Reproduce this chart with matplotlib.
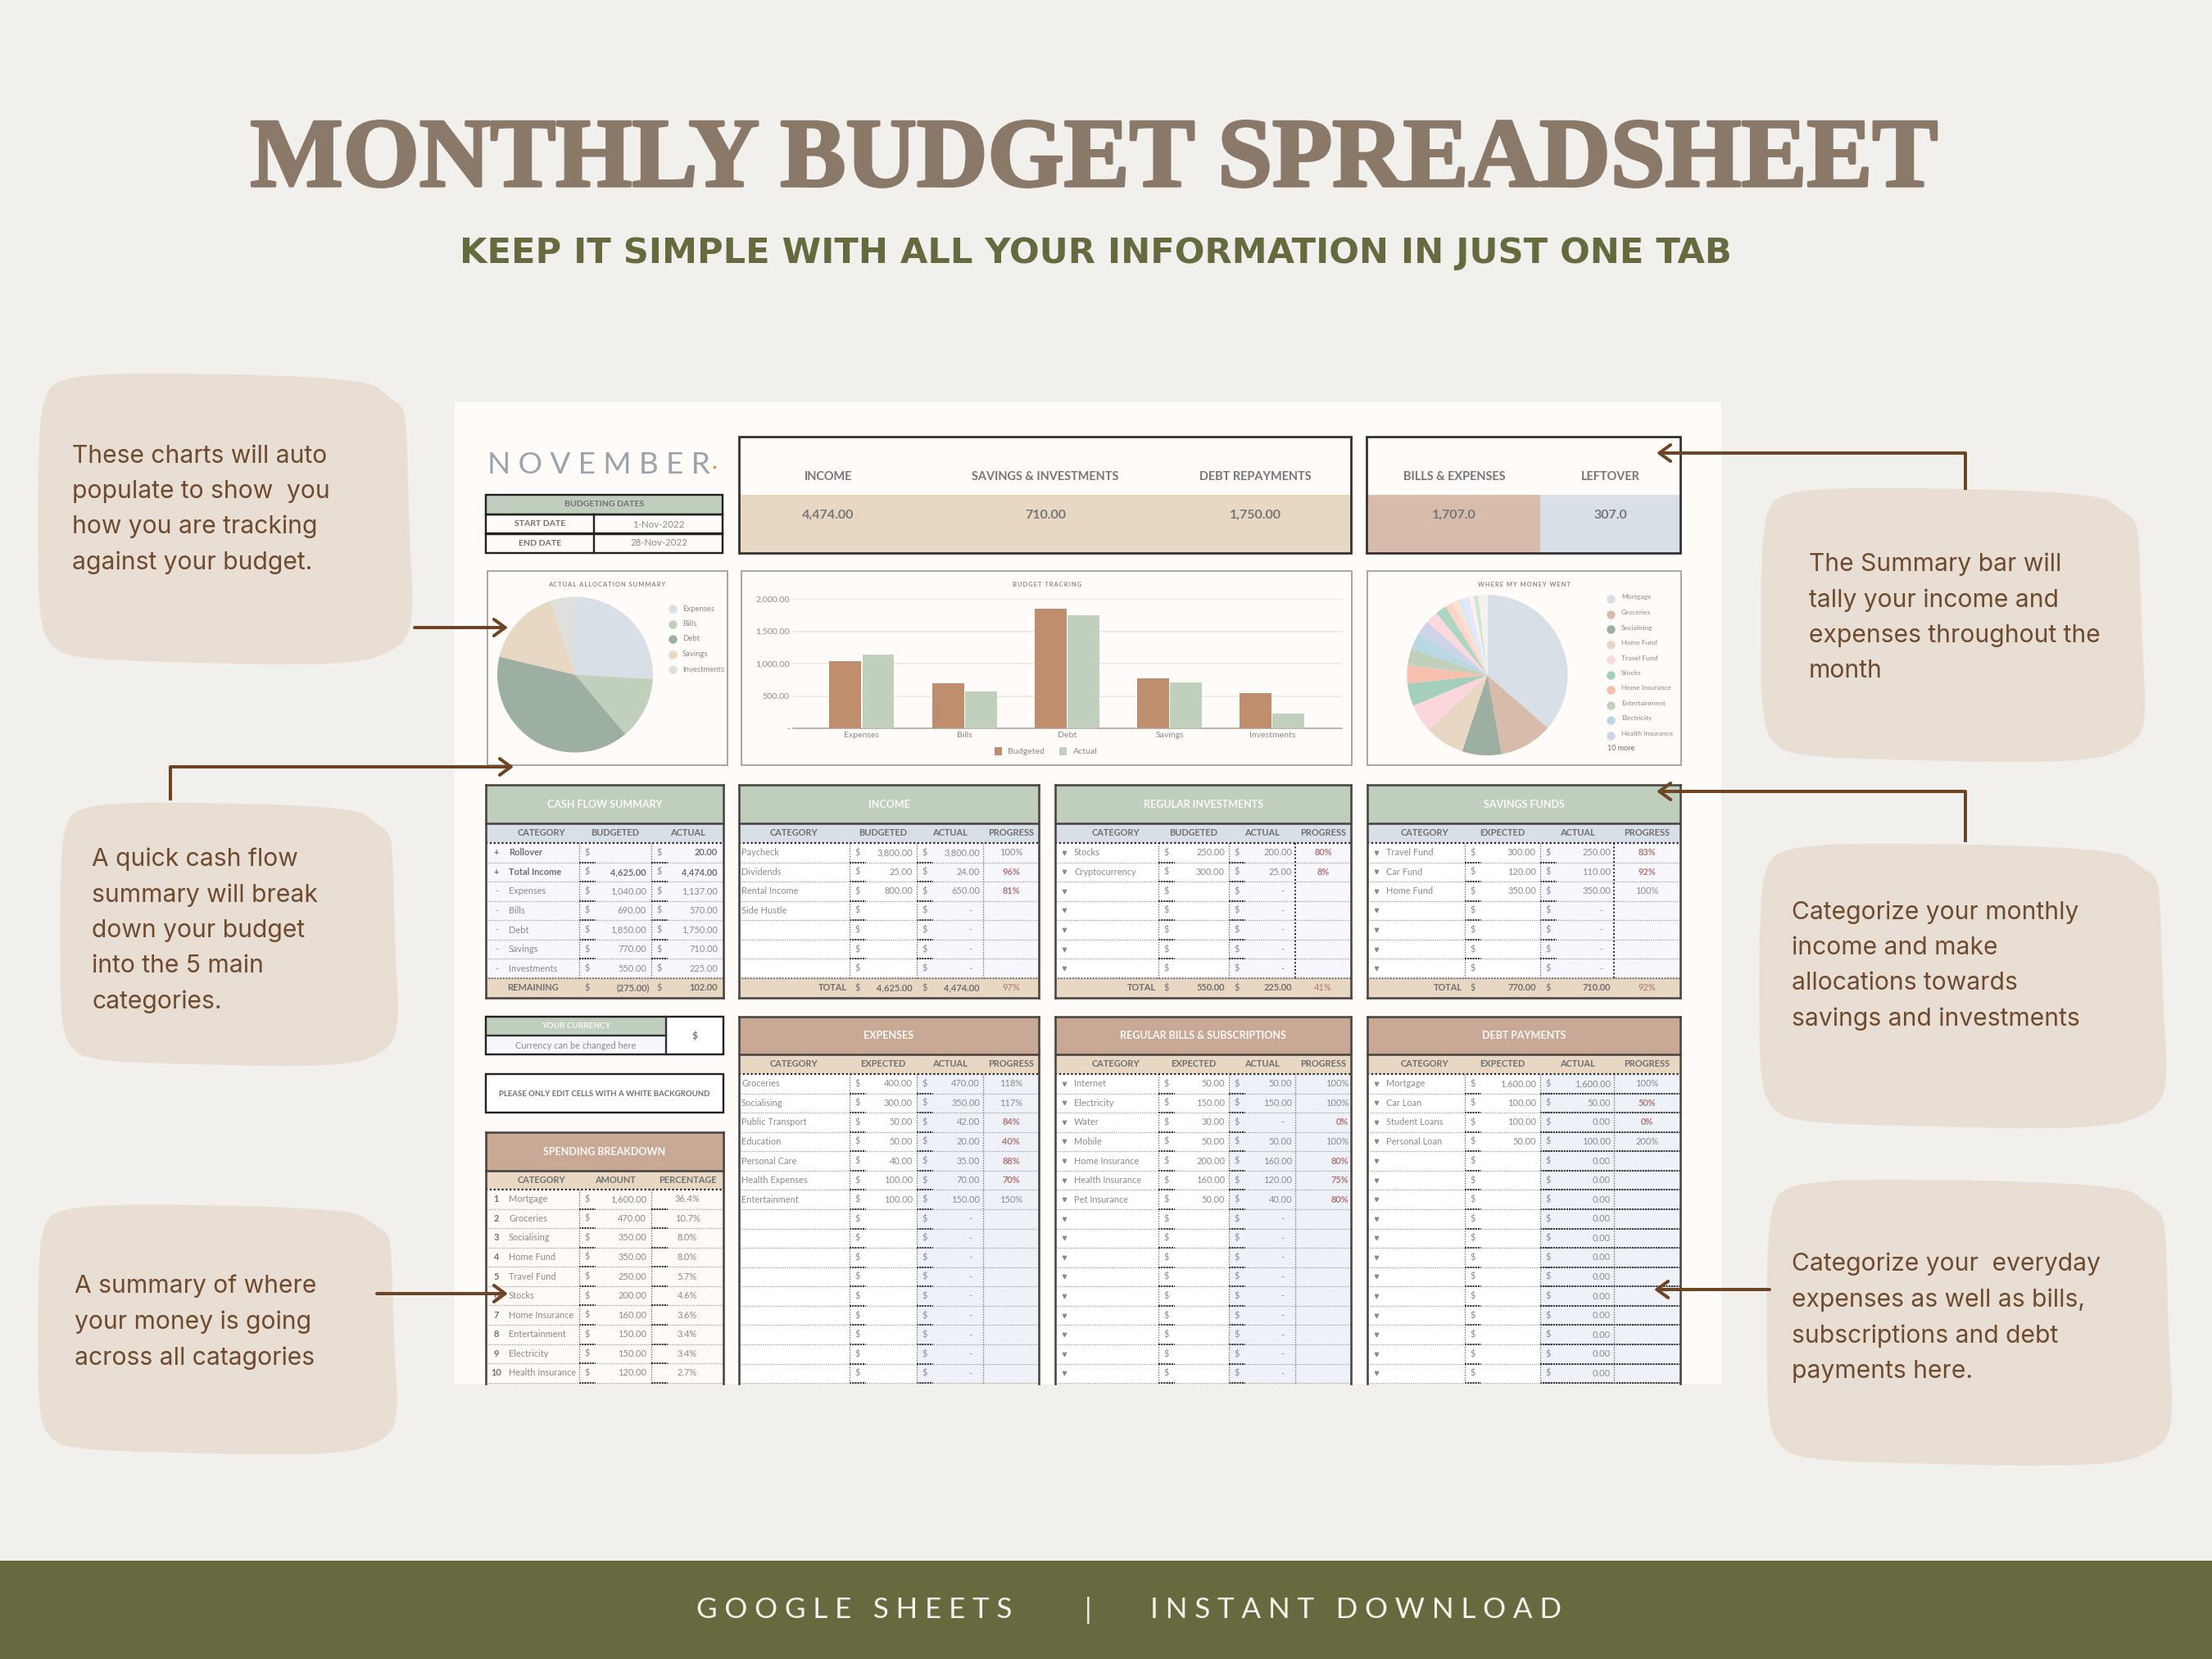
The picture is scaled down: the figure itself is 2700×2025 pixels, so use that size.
import matplotlib
matplotlib.use('Agg')
import matplotlib.pyplot as plt
import matplotlib.patheffects as pe
from matplotlib.patches import Rectangle, PathPatch
from matplotlib.path import Path

W, H = 2700, 2025
PT = 0.72  # pixels to points at dpi 100

PAGE = '#f1f0ec'
SHEET = '#fffbf8'
BLOB = '#e8ded4'
OLIVE = '#666a3e'
TITLE_C = '#8a7868'
ARROW = '#6e4524'
TEXT_BROWN = '#6e4a2e'
GREEN = '#c0cfbd'
BROWN = '#c9a896'
BLUE = '#d8dfe7'
TAN = '#e8d7c3'
LAV = '#f8f7fd'
PALE = '#eef2f8'
EDGE = '#4a4540'
GREY = '#8a8a8a'
DARK = '#6f6f6f'
RED = '#b07474'

# chart data
cats = ['Expenses', 'Bills', 'Debt', 'Savings', 'Investments']
budgeted = [1040, 690, 1850, 770, 550]
actual = [1137, 570, 1750, 710, 225]
cat_colors = ['#d8dfe7', '#c0d0bd', '#9dafa0', '#e8d7c3', '#dde0dc']

money_names = ['Mortgage', 'Groceries', 'Socialising', 'Home Fund', 'Travel Fund', 'Stocks',
               'Home Insurance', 'Entertainment', 'Electricity', 'Health Insurance']
money_vals = [1600, 470, 350, 350, 250, 200, 160, 150, 150, 120,
              110, 100, 70, 50, 50, 50, 42, 40, 35, 25, 20]
money_colors = ['#d8dfe7', '#d8bcab', '#9dafa0', '#e8d7c3', '#fbd7dc', '#a3cfbb', '#f7bfae',
                '#c0d0bd', '#b9d8e3', '#cdd3e8', '#fbd9df', '#aed5c0', '#fbd5c8', '#fbe2d0',
                '#dbe7f3', '#e4e7f5', '#fdeef0', '#c8e6d9', '#fbf0e4', '#eef2f8', '#f4f4f0']
money_pcts = ['36.4%', '10.7%', '8.0%', '8.0%', '5.7%', '4.6%', '3.6%', '3.4%', '3.4%', '2.7%']

# table data
cash_signs = ['+', '+', '-', '-', '-', '-', '-']
cash_names = ['Rollover', 'Total Income', 'Expenses', 'Bills', 'Debt', 'Savings', 'Investments']
cash_bud = [None, 4625, 1040, 690, 1850, 770, 550]
cash_act = [20, 4474, 1137, 570, 1750, 710, 225]

inc_names = ['Paycheck', 'Dividends', 'Rental Income', 'Side Hustle']
inc_bud = [3800, 25, 800]
inc_act = [3800, 24, 650]
inc_prog = ['100%', '96%', '81%']

inv_names = ['Stocks', 'Cryptocurrency']
inv_bud = [250, 300]
inv_act = [200, 25]
inv_prog = ['80%', '8%']

sav_names = ['Travel Fund', 'Car Fund', 'Home Fund']
sav_bud = [300, 120, 350]
sav_act = [250, 110, 350]
sav_prog = ['83%', '92%', '100%']

exp_names = ['Groceries', 'Socialising', 'Public Transport', 'Education', 'Personal Care',
             'Health Expenses', 'Entertainment']
exp_bud = [400, 300, 50, 50, 40, 100, 100]
exp_act = [470, 350, 42, 20, 35, 70, 150]
exp_prog = ['118%', '117%', '84%', '40%', '88%', '70%', '150%']

bil_names = ['Internet', 'Electricity', 'Water', 'Mobile', 'Home Insurance', 'Health Insurance',
             'Pet Insurance']
bil_bud = [50, 150, 30, 50, 200, 160, 50]
bil_act = [50, 150, 0, 50, 160, 120, 40]
bil_prog = ['100%', '100%', '0%', '100%', '80%', '75%', '80%']

debt_names = ['Mortgage', 'Car Loan', 'Student Loans', 'Personal Loan']
debt_bud = [1600, 100, 100, 50]
debt_act = [1600, 50, 0, 100]
debt_prog = ['100%', '50%', '0%', '200%']

notes = [
    (88, 622, 'These charts will auto\npopulate to show  you\nhow you are tracking\nagainst your budget.'),
    (112, 1136, 'A quick cash flow\nsummary will break\ndown your budget\ninto the 5 main\ncategories.'),
    (91, 1614, 'A summary of where\nyour money is going\nacross all catagories'),
    (2208, 754, 'The Summary bar will\ntally your income and\nexpenses throughout the\nmonth'),
    (2187, 1179, 'Categorize your monthly\nincome and make\nallocations towards\nsavings and investments'),
    (2187, 1608, 'Categorize your  everyday\nexpenses as well as bills,\nsubscriptions and debt\npayments here.'),
]

# brush shape outline, 0-1 box, y down
brush = [(.013, .09), (.053, .02), (.257, 0), (.876, .02), (.934, .09), (.97, .117), (.98, .20),
         (.986, .57), (1, .84), (.965, .94), (.83, 1), (.345, .987), (.093, .974), (.03, .93),
         (.004, .84), (0, .57), (.002, .25)]
blobs = [(46, 454, 506, 813), (73, 978, 488, 1303), (46, 1469, 487, 1777),
         (2149, 594, 2621, 932), (2147, 1028, 2647, 1379), (2156, 1438, 2654, 1791)]

plt.rcParams['font.family'] = ['Lato', 'DejaVu Sans']
fig = plt.figure(figsize=(W / 100, H / 100), dpi=100, facecolor=PAGE)


def overlay(z):
    a = fig.add_axes([0, 0, 1, 1], zorder=z)
    a.set_xlim(0, W)
    a.set_ylim(H, 0)
    a.axis('off')
    a.patch.set_alpha(0)
    return a


def inset(x0, y0, x1, y1):
    return fig.add_axes([x0 / W, 1 - y1 / H, (x1 - x0) / W, (y1 - y0) / H], zorder=1)


ax = overlay(0)
top = overlay(2)


def box(x0, y0, x1, y1, fc='none', ec='none', lw=0, z=1):
    ax.add_patch(Rectangle((x0, y0), x1 - x0, y1 - y0, fc=fc, ec=ec, lw=lw * PT, zorder=z))


def label(x, y, s, px=11, c=GREY, ha='center', weight='normal', z=5, **kw):
    return ax.text(x, y, s, fontsize=px * PT, color=c, ha=ha, va='center', fontweight=weight, zorder=z, **kw)


def fit_width(t, width):
    w = t.get_window_extent(fig.canvas.get_renderer()).width
    t.set_fontsize(t.get_fontsize() * width / w)


def money(v):
    return f'{v:,.2f}'


def spaced(s, gap='\u2009'):
    return gap.join(s)


# title + subtitle
t = ax.text(1336, 198, 'MONTHLY BUDGET SPREADSHEET', fontsize=90, family='Liberation Serif',
            fontweight='bold', color=TITLE_C, ha='center', va='center')
fit_width(t, 2060)
t.set_path_effects([pe.withStroke(linewidth=2.5, foreground=TITLE_C)])
t = ax.text(1337, 309, 'KEEP IT SIMPLE WITH ALL YOUR INFORMATION IN JUST ONE TAB', fontsize=30,
            family='DejaVu Sans', fontweight='bold', color=OLIVE, ha='center', va='center')
fit_width(t, 1552)

# footer
box(0, 1905, W, H, fc=OLIVE)
label(1043, 1965, spaced('GOOGLE SHEETS', '\u2009\u2009'), px=35, c='#f4f3ec')
label(1328, 1965, '|', px=35, c='#f4f3ec')
label(1655, 1965, spaced('INSTANT DOWNLOAD', '\u2009\u2009'), px=35, c='#f4f3ec')

# brush blocks and notes
for x0, y0, x1, y1 in blobs:
    pts = [(x0 + px * (x1 - x0), y0 + py * (y1 - y0)) for px, py in brush]
    mids = [((pts[i][0] + pts[(i + 1) % len(pts)][0]) / 2, (pts[i][1] + pts[(i + 1) % len(pts)][1]) / 2)
            for i in range(len(pts))]
    verts = [mids[-1]]
    codes = [Path.MOVETO]
    for p, m in zip(pts, mids):
        verts += [p, m]
        codes += [Path.CURVE3, Path.CURVE3]
    ax.add_patch(PathPatch(Path(verts, codes), fc=BLOB, ec='none', zorder=1))

for x, y, s in notes:
    ax.text(x, y, s, fontsize=30 * PT, family='Inter', color=TEXT_BROWN, va='center', ha='left',
            linespacing=1.68, zorder=3)

# sheet
box(555, 491, 2101, 1689, fc=SHEET, z=2)

# month + dates
label(731, 568, spaced('NOVEMBER', '\u2009\u2009'), px=37, c='#9ba4aa')
ax.plot([872], [570], 's', ms=2, color='#d98a3c', zorder=5)
box(593, 604, 882, 628, fc=GREEN, z=3)
for y in (604, 628, 651):
    box(593, y, 882, y + 24, ec='#222222', lw=2.4, z=4)
ax.plot([725, 725], [628, 675], color='#222222', lw=2.4 * PT, zorder=4)
label(738, 616, 'BUDGETING DATES', px=10.5, c=DARK, weight='bold')
label(659, 640, 'START DATE', px=10.5, c=DARK, weight='bold')
label(659, 663, 'END DATE', px=10.5, c=DARK, weight='bold')
label(804, 640, '1-Nov-2022', px=11.5)
label(804, 663, '28-Nov-2022', px=11.5)

# summary bar
box(902, 533, 1649, 604, fc=SHEET, z=3)
box(902, 604, 1649, 675, fc=TAN, z=3)
box(1668, 604, 1880, 675, fc='#d8bcab', z=3)
box(1880, 604, 2051, 675, fc=BLUE, z=3)
box(902, 533, 1649, 675, ec='#333333', lw=2.8, z=4)
box(1668, 533, 2051, 675, ec='#333333', lw=2.8, z=4)
for x, head, val in [(1011, 'INCOME', '4,474.00'), (1276, 'SAVINGS & INVESTMENTS', '710.00'),
                     (1532, 'DEBT REPAYMENTS', '1,750.00'), (1775, 'BILLS & EXPENSES', '1,707.0'),
                     (1966, 'LEFTOVER', '307.0')]:
    label(x, 582, head, px=14.5, c='#777777', weight='bold')
    label(x, 629, val, px=16, c='#777777', weight='bold')

# chart boxes
for x0, x1 in [(595, 888), (905, 1650), (1669, 2052)]:
    box(x0, 697, x1, 934, fc=SHEET, ec='#a8a8a8', lw=2, z=3)
label(741, 713, spaced('ACTUAL ALLOCATION SUMMARY'), px=7.5, c=GREY, weight='bold')
label(1278, 713, spaced('BUDGET TRACKING'), px=7.5, c=GREY, weight='bold')
label(1861, 713, spaced('WHERE MY MONEY WENT'), px=7.5, c=GREY, weight='bold')

# allocation pie
pie_a = inset(607, 728, 797, 919)
pie_a.pie(actual, colors=cat_colors, startangle=90, counterclock=False, radius=1)
pie_a.set_xlim(-1, 1)
pie_a.set_ylim(-1, 1)
for i, name in enumerate(cats):
    ax.plot([821], [743 + i * 18.5], 'o', ms=6.5, color=cat_colors[i], zorder=5)
    label(833, 743 + i * 18.5, name, px=9.5, ha='left')

# bar chart
bar_ax = inset(968, 731, 1638, 889)
xs = range(len(cats))
bar_ax.bar([x - 0.16 for x in xs], budgeted, width=0.31, color='#be8e6e', zorder=3)
bar_ax.bar([x + 0.16 for x in xs], actual, width=0.31, color='#c1d0bd', zorder=3)
bar_ax.set_xlim(-0.67, 4.68)
bar_ax.set_ylim(0, 2000)
bar_ax.set_yticks([0, 500, 1000, 1500, 2000])
bar_ax.set_yticklabels(['-', '500.00', '1,000.00', '1,500.00', '2,000.00'], fontsize=10.5 * PT, color=GREY)
bar_ax.set_xticks(list(xs))
bar_ax.set_xticklabels(cats, fontsize=10.5 * PT, color=GREY)
bar_ax.tick_params(length=0, pad=3)
bar_ax.grid(axis='y', color='#ece8e4', lw=1.6 * PT, zorder=0)
bar_ax.patch.set_alpha(0)
for side in ['top', 'left', 'right']:
    bar_ax.spines[side].set_visible(False)
bar_ax.spines['bottom'].set_color('#a9a6a2')
bar_ax.spines['bottom'].set_linewidth(1.6 * PT)
box(1214, 912, 1223, 922, fc='#be8e6e', z=5)
label(1230, 917, 'Budgeted', px=10.5, ha='left')
box(1293, 912, 1302, 922, fc='#c1d0bd', z=5)
label(1310, 917, 'Actual', px=10.5, ha='left')

# spending pie
pie_c = inset(1717, 726, 1914, 922)
pie_c.pie(money_vals, colors=money_colors, startangle=90, counterclock=False, radius=1)
pie_c.set_xlim(-1, 1)
pie_c.set_ylim(-1, 1)
for i, name in enumerate(money_names):
    ax.plot([1966], [731 + i * 18.5], 'o', ms=6.5, color=money_colors[i], zorder=5)
    label(1979, 729 + i * 18.5, name, px=8.5, ha='left')
label(1962, 913, '10 more', px=9, ha='left', c=DARK)


def dotted(x0, y0, x1, y1, c='#9a9a9a', lw=1.2, z=4):
    ax.plot([x0, x1], [y0, y1], color=c, lw=lw * PT, ls=(0, (1, 1.2)), zorder=z)


ROW = 23.57
BOTTOM = 1689


def draw_table(x0, x1, cols, y_top, y_head, y_sub, title, head_fc, sub_fc, heads, fills, n_rows,
               has_total=False, bold_third=False, bold_right=False):
    edges = [x0] + cols + [x1]
    y_end = y_sub + n_rows * ROW
    clipped = y_end > BOTTOM
    y_low = min(y_end, BOTTOM)
    foot = y_end + ROW if has_total else y_low
    for i, fc in enumerate(fills):
        box(edges[i], y_sub, edges[i + 1], y_low, fc=fc, z=3)
    box(x0, y_top, x1, y_head, fc=head_fc, z=3)
    box(x0, y_head, x1, y_sub, fc=sub_fc, z=3)
    if has_total:
        box(x0, y_end, x1, foot, fc=TAN, z=3)
    label((x0 + x1) / 2, (y_top + y_head) / 2, title, px=12.5, c='#fbfaf6', weight='bold')
    for i, h in enumerate(heads):
        cx = (edges[i] + edges[i + 1]) / 2
        if i == 0 and x0 not in (902,):
            cx += 11
        label(cx, (y_head + y_sub) / 2, h, px=11, c=DARK, weight='bold')
    # grid
    for i in range(1, n_rows + 1):
        y = y_sub + i * ROW
        if y > BOTTOM:
            break
        dotted(x0, y, x1, y)
        if i < n_rows:
            for c in cols[:2]:
                ax.plot([c, c + 20], [y, y], color='#333333', lw=2 * PT, ls=(0, (1, 0.6)), zorder=4)
            if bold_right:
                ax.plot([cols[1], x1], [y, y], color='#333333', lw=2 * PT, ls=(0, (1, 0.6)), zorder=4)
    for j, c in enumerate(cols):
        if bold_third and j == 2:
            dotted(c, y_sub, c, y_low, c='#333333', lw=2)
        else:
            dotted(c, y_sub, c, y_low, c='#777777', lw=1.4)
    dotted(x0, y_sub, x1, y_sub, c='#222222', lw=2.2)
    if has_total:
        dotted(x0, y_end, x1, y_end, c='#555555', lw=1.6)
    # outline, open at the cut-off edge
    ax.plot([x0, x0], [y_top, foot], color=EDGE, lw=2.6 * PT, zorder=5)
    ax.plot([x1, x1], [y_top, foot], color=EDGE, lw=2.6 * PT, zorder=5)
    ax.plot([x0, x1], [y_top, y_top], color=EDGE, lw=2.6 * PT, zorder=5)
    ax.plot([x0, x1], [y_head, y_head], color=EDGE, lw=2.6 * PT, zorder=5)
    if not clipped:
        ax.plot([x0, x1], [foot, foot], color=EDGE, lw=2.6 * PT, zorder=5)


def fill_rows(x0, x1, cols, y_sub, n_rows, names, bud, act, prog, arrows=False, prog_right=False,
              blank_act='-'):
    for i in range(n_rows):
        y = y_sub + (i + 0.5) * ROW
        if arrows:
            ax.plot([x0 + 11], [y], 'v', ms=3.2, color=GREY, zorder=5)
        if i < len(names):
            label(x0 + (23 if arrows else 3), y, names[i], px=11, ha='left')
        label(cols[0] + 10, y, '$', px=11)
        label(cols[1] + 10, y, '$', px=11)
        if i < len(bud):
            label(cols[1] - 5, y, money(bud[i]), px=11, ha='right')
        if i < len(act) and act[i] > 0:
            label(cols[2] - 4, y, money(act[i]), px=11, ha='right')
        elif blank_act == '-':
            label(cols[2] - 14, y, '-', px=11, ha='right')
        else:
            label(cols[2] - 4, y, blank_act, px=11, ha='right')
        if i < len(prog):
            low = int(prog[i][:-1]) < 100
            if prog_right:
                label(x1 - 3, y, prog[i], px=11, ha='right', c=RED if low else GREY, weight='bold' if low else 'normal')
            else:
                label((cols[2] + x1) / 2, y, prog[i], px=11, c=RED if low else GREY, weight='bold' if low else 'normal')


def total_row(x0, x1, cols, y, bud, act, prog):
    label(cols[0] - 3, y, 'TOTAL', px=11, c=DARK, ha='right', weight='bold')
    label(cols[0] + 10, y, '$', px=11, c=DARK)
    label(cols[1] + 10, y, '$', px=11, c=DARK)
    label(cols[1] - 5, y, money(bud), px=11, c=DARK, ha='right', weight='bold')
    label(cols[2] - 4, y, money(act), px=11, c=DARK, ha='right', weight='bold')
    label((cols[2] + x1) / 2, y, prog, px=11, c=RED)


# upper tables
UP = (958, 1005, 1029)
draw_table(593, 883, [707, 795], *UP, 'CASH FLOW SUMMARY', GREEN, BLUE, ['CATEGORY', 'BUDGETED', 'ACTUAL'],
           [LAV, LAV, LAV], 7, has_total=True)
for i, name in enumerate(cash_names):
    y = 1029 + (i + 0.5) * ROW
    strong = i < 2
    label(606, y, cash_signs[i], px=11, c=DARK if strong else GREY, weight='bold' if strong else 'normal')
    label(621, y, name, px=11, ha='left', c=DARK if strong else GREY, weight='bold' if strong else 'normal')
    label(717, y, '$', px=11)
    label(805, y, '$', px=11)
    if cash_bud[i] is not None:
        label(789, y, money(cash_bud[i]), px=11, ha='right', c=DARK if strong else GREY, weight='bold' if strong else 'normal')
    label(876, y, money(cash_act[i]), px=11, ha='right', c=DARK if strong else GREY, weight='bold' if strong else 'normal')
y = 1029 + 7.5 * ROW
label(650, y, 'REMAINING', px=11, c=DARK, weight='bold')
label(717, y, '$', px=11, c=DARK)
label(805, y, '$', px=11, c=DARK)
label(793, y, '(275.00)', px=11, c=DARK, ha='right', weight='bold')
label(876, y, '102.00', px=11, c=DARK, ha='right', weight='bold')

upper = [
    (902, 1268, [1037, 1119, 1200], 'INCOME', ['CATEGORY', 'BUDGETED', 'ACTUAL', 'PROGRESS'], False,
     inc_names, inc_bud, inc_act, inc_prog, (4625, 4474, '97%')),
    (1288, 1649, [1414, 1500, 1581], 'REGULAR INVESTMENTS', ['CATEGORY', 'BUDGETED', 'ACTUAL', 'PROGRESS'], True,
     inv_names, inv_bud, inv_act, inv_prog, (550, 225, '41%')),
    (1669, 2051, [1788, 1880, 1970], 'SAVINGS FUNDS', ['CATEGORY', 'EXPECTED', 'ACTUAL', 'PROGRESS'], True,
     sav_names, sav_bud, sav_act, sav_prog, (770, 710, '92%')),
]
for x0, x1, cols, title, heads, arrows, names, bud, act, prog, tot in upper:
    draw_table(x0, x1, cols, *UP, title, GREEN, BLUE, heads, ['white', 'white', LAV, LAV], 7,
               has_total=True, bold_third=arrows)
    fill_rows(x0, x1, cols, UP[2], 7, names, bud, act, prog, arrows=arrows)
    total_row(x0, x1, cols, 1029 + 7.5 * ROW, *tot)

# currency + note boxes
box(593, 1241, 813, 1264, fc=GREEN, z=3)
box(593, 1264, 813, 1287, fc=LAV, z=3)
box(813, 1241, 883, 1287, fc='white', z=3)
box(593, 1241, 883, 1287, ec='#222222', lw=2.4, z=4)
ax.plot([593, 813], [1264, 1264], color='#333333', lw=2.4 * PT, zorder=4)
ax.plot([813, 813], [1241, 1287], color='#333333', lw=2.4 * PT, zorder=4)
label(703, 1252.5, 'YOUR CURRENCY', px=10, c='#fbfaf6', weight='bold')
label(703, 1276, 'Currency can be changed here', px=11)
label(848, 1264, '$', px=12, c=DARK, weight='bold')
box(593, 1311, 883, 1358, fc='white', ec='#222222', lw=2.4, z=3)
label(738, 1335, 'PLEASE ONLY EDIT CELLS WITH A WHITE BACKGROUND', px=9.7, c=DARK, weight='bold')

# spending breakdown, cut off by the sheet edge
draw_table(593, 883, [707, 795], 1382, 1429, 1452, 'SPENDING BREAKDOWN', BROWN, TAN,
           ['CATEGORY', 'AMOUNT', 'PERCENTAGE'], ['#fffaf6'] * 3, 11)
for i, name in enumerate(money_names):
    y = 1452 + (i + 0.5) * ROW
    label(606, y, str(i + 1), px=11, c=DARK, weight='bold')
    label(621, y, name, px=11, ha='left')
    label(717, y, '$', px=11)
    label(789, y, money(money_vals[i]), px=11, ha='right')
    label(839, y, money_pcts[i], px=11)

# lower tables
LOW = (1241, 1287, 1311)
lower = [
    (902, 1268, [1037, 1119, 1200], 'EXPENSES', False, False, exp_names, exp_bud, exp_act, exp_prog, '-', False),
    (1288, 1649, [1414, 1500, 1581], 'REGULAR BILLS & SUBSCRIPTIONS', True, False, bil_names, bil_bud, bil_act, bil_prog, '-', True),
    (1669, 2051, [1788, 1880, 1970], 'DEBT PAYMENTS', True, True, debt_names, debt_bud, debt_act, debt_prog, '0.00', False),
]
for x0, x1, cols, title, arrows, bold_r, names, bud, act, prog, blank, right in lower:
    draw_table(x0, x1, cols, *LOW, title, BROWN, TAN, ['CATEGORY', 'EXPECTED', 'ACTUAL', 'PROGRESS'],
               ['white', 'white', PALE, PALE], 17, bold_right=bold_r)
    fill_rows(x0, x1, cols, LOW[2], 16, names, bud, act, prog, arrows=arrows, prog_right=right, blank_act=blank)


# arrows, on top of everything
def arrow(points):
    xs_, ys_ = zip(*points)
    top.plot(xs_[:-1], ys_[:-1], color=ARROW, lw=4 * PT, solid_capstyle='butt', solid_joinstyle='miter')
    top.annotate('', xy=points[-1], xytext=points[-2],
                 arrowprops=dict(arrowstyle='->,head_length=0.55,head_width=0.4', color=ARROW, lw=4 * PT,
                                 shrinkA=0, shrinkB=0, mutation_scale=18))


arrow([(506, 766), (620, 766)])
arrow([(208, 977), (208, 936), (627, 936)])
arrow([(460, 1579), (620, 1579)])
arrow([(2399, 598), (2399, 553), (2022, 553)])
arrow([(2399, 1028), (2399, 966), (2022, 966)])
arrow([(2160, 1574), (2019, 1574)])

fig.savefig('out.png', dpi=100, facecolor=PAGE)
